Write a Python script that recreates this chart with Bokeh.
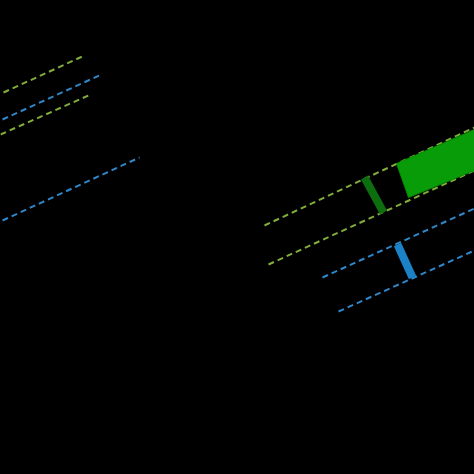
from bokeh.plotting import figure
from bokeh.models import Range1d
from bokeh.embed import file_html
from bokeh.resources import INLINE

# Dashed guide lines (start x, start y, end x, end y) in picture units
green_x0 = [3, 0, 264, 268]
green_y0 = [92, 134, 225, 264]
green_x1 = [84, 88, 474, 474]
green_y1 = [55, 95, 127, 170]

blue_x0 = [2, 2, 322, 338]
blue_y0 = [119, 220, 277, 311]
blue_x1 = [101, 139, 474, 474]
blue_y1 = [74, 157, 208, 250]

# Thick bars
dark_bar = [364, 177, 383, 212]
blue_bar = [397, 244, 412, 277]

# Big filled box corners
box_x = [396, 474, 474, 408]
box_y = [163, 129, 170, 197]

p = figure(width=474, height=474, output_backend="svg", toolbar_location=None,
           x_range=Range1d(0, 474), y_range=Range1d(474, 0), min_border=0)
p.axis.visible = False
p.grid.visible = False
p.outline_line_color = None
p.background_fill_color = "#000000"
p.border_fill_color = "#000000"

p.segment(green_x0, green_y0, green_x1, green_y1, line_color="#82ad3a",
          line_width=2, line_dash="6 4")
p.segment(blue_x0, blue_y0, blue_x1, blue_y1, line_color="#2f86c8",
          line_width=2, line_dash="6 4")

p.patch(box_x, box_y, fill_color="#089c08", line_color="#078a07", line_width=1)

p.segment([dark_bar[0]], [dark_bar[1]], [dark_bar[2]], [dark_bar[3]],
          line_color="#0d6e0f", line_width=8)
p.segment([blue_bar[0]], [blue_bar[1]], [blue_bar[2]], [blue_bar[3]],
          line_color="#1c82c8", line_width=8)

html = file_html(p, INLINE)
html = html.replace("<head>", "<head><style>html,body{background:#000000;margin:0;}</style>", 1)
open("out.html", "w").write(html)
